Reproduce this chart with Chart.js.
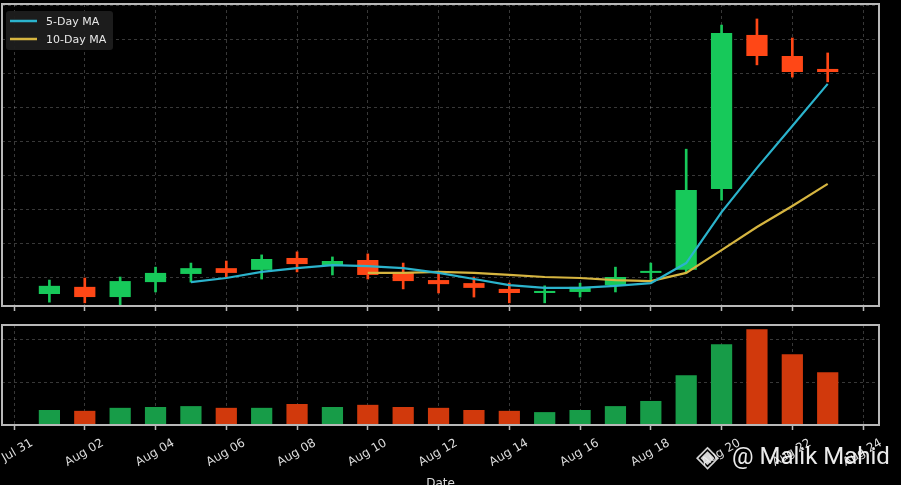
<!DOCTYPE html>
<html><head><meta charset="utf-8">
<script src="https://cdn.jsdelivr.net/npm/chart.js@4.4.1/dist/chart.umd.min.js"></script>
<style>
html,body{margin:0;padding:0;background:#000;width:901px;height:485px;overflow:hidden;}
#c1{position:absolute;left:0;top:0;}
#c2{position:absolute;left:0;top:318px;}
#logo{position:absolute;left:696px;top:441px;font-family:'DejaVu Sans';font-size:30px;line-height:30px;color:rgba(235,235,235,0.9);}
#wm{position:absolute;left:732px;top:441px;color:rgba(255,255,255,0.92);font-family:Roboto,'Noto Sans',sans-serif;font-size:24px;white-space:nowrap;line-height:30px;}
</style></head><body>
<canvas id="c1" width="901" height="318"></canvas>
<canvas id="c2" width="901" height="173"></canvas>
<div id="logo">◈</div>
<div id="wm">@ Malik Mahid</div>
<script>
const dates = ['Aug 01','Aug 02','Aug 03','Aug 04','Aug 05','Aug 06','Aug 07','Aug 08','Aug 09','Aug 10','Aug 11','Aug 12','Aug 13','Aug 14','Aug 15','Aug 16','Aug 17','Aug 18','Aug 19','Aug 20','Aug 21','Aug 22','Aug 23'];
const openP  = [0.50,0.71,0.41,0.85,1.09,1.26,1.21,1.56,1.35,1.50,1.12,0.91,0.82,0.65,0.53,0.56,0.76,1.12,1.21,3.59,8.12,7.50,7.12];
const highP  = [0.91,0.97,1.00,1.29,1.41,1.47,1.65,1.74,1.59,1.68,1.41,1.12,1.00,0.82,0.74,0.82,1.29,1.41,4.76,8.41,8.59,8.03,7.59];
const lowP   = [0.26,0.24,0.15,0.56,0.85,1.00,0.94,1.15,1.06,0.94,0.65,0.53,0.41,0.24,0.24,0.41,0.56,0.91,1.12,3.26,7.24,6.88,6.74];
const closeP = [0.74,0.41,0.88,1.12,1.26,1.12,1.53,1.38,1.47,1.06,0.88,0.79,0.68,0.53,0.59,0.71,1.00,1.18,3.56,8.18,7.50,7.03,7.03];
const ma5  = [null,null,null,null,0.85,0.97,1.15,1.26,1.35,1.32,1.26,1.12,0.94,0.76,0.68,0.68,0.74,0.82,1.41,2.91,4.21,5.44,6.68];
const ma10 = [null,null,null,null,null,null,null,null,null,1.12,1.12,1.15,1.12,1.06,1.00,0.97,0.91,0.88,1.12,1.79,2.47,3.09,3.74];
const volume = [0.35,0.33,0.40,0.42,0.44,0.40,0.40,0.49,0.42,0.47,0.42,0.40,0.35,0.33,0.30,0.35,0.44,0.56,1.16,1.88,2.23,1.65,1.23];
const tickDays = [0,2,4,6,8,10,12,14,16,18,20,22,24];
const tickLabels = ['Jul 31','Aug 02','Aug 04','Aug 06','Aug 08','Aug 10','Aug 12','Aug 14','Aug 16','Aug 18','Aug 20','Aug 22','Aug 24'];
const priceGrid = [1,2,3,4,5,6,7,8,9];
const volumeGrid = [0,1,2];

const UP = '#17c95a', DOWN = '#ff4716';
const VUP = '#179c48', VDOWN = '#d1390c';
const CYAN = '#2bb3cc', GOLD = '#d6b540';
const GRID = 'rgba(255,255,255,0.22)';
const FRAME = '#b8b8b8';

const xs = dates.map((_, i) => i + 1);
const isUp = dates.map((_, i) => closeP[i] >= openP[i]);

const framePlugin = {
  id: 'frame',
  afterDraw(chart) {
    const {ctx, chartArea: a} = chart;
    ctx.save();
    ctx.strokeStyle = FRAME;
    ctx.lineWidth = 2;
    ctx.strokeRect(a.left, a.top, a.right - a.left, a.bottom - a.top);
    ctx.restore();
  }
};

const legendPlugin = {
  id: 'maLegend',
  afterDraw(chart) {
    const ctx = chart.ctx;
    const items = chart.data.datasets.filter(d => d.type === 'line');
    ctx.save();
    ctx.fillStyle = 'rgba(30,30,30,0.95)';
    ctx.beginPath();
    ctx.roundRect(6, 11, 107, 39, 3);
    ctx.fill();
    items.forEach((d, k) => {
      const y = 21 + k * 18;
      ctx.strokeStyle = d.borderColor;
      ctx.lineWidth = 2.5;
      ctx.beginPath(); ctx.moveTo(10, y); ctx.lineTo(37, y); ctx.stroke();
      ctx.fillStyle = '#e8e8e8';
      ctx.font = '11px "DejaVu Sans"';
      ctx.textBaseline = 'middle';
      ctx.fillText(d.label, 46, y + 1);
    });
    ctx.restore();
  }
};

function xScale(showLabels) {
  return {
    type: 'linear', min: -0.34, max: 24.45, offset: false,
    afterBuildTicks: s => { s.ticks = tickDays.map(v => ({value: v})); },
    grid: { offset: false, color: GRID, lineWidth: 1, drawTicks: true, tickLength: 5,
            tickColor: FRAME, tickWidth: 1.5, tickBorderDash: [] },
    border: { display: false, dash: [3, 3] },
    ticks: showLabels ? {
      display: true, autoSkip: false, minRotation: 30, maxRotation: 30,
      labelOffset: 18, padding: 6, color: '#dcdcdc',
      font: { family: 'DejaVu Sans', size: 12 },
      callback: v => tickLabels[tickDays.indexOf(v)]
    } : { display: false },
    title: showLabels ? { display: true, text: 'Date', color: '#dcdcdc',
      font: { family: 'DejaVu Sans', size: 12 }, padding: { top: 0, bottom: 0 } } : { display: false },
    afterFit: s => { s.height = showLabels ? 66 : 12; s.paddingLeft = 0; s.paddingRight = 0; }
  };
}

function yScale(min, max, grid) {
  return {
    type: 'linear', min, max,
    afterBuildTicks: s => { s.ticks = grid.map(v => ({value: v})); },
    grid: { color: GRID, lineWidth: 1, drawTicks: false },
    border: { display: false, dash: [3, 3] },
    ticks: { display: false },
    afterFit: s => { s.width = 0; s.paddingTop = 0; s.paddingBottom = 0; }
  };
}

new Chart(document.getElementById('c1'), {
  type: 'bar',
  data: {
    datasets: [
      { type: 'line', label: '5-Day MA', data: xs.map((x, i) => ({x, y: ma5[i]})),
        borderColor: CYAN, borderWidth: 2.2, pointRadius: 0, tension: 0, order: 0 },
      { type: 'line', label: '10-Day MA', data: xs.map((x, i) => ({x, y: ma10[i]})),
        borderColor: GOLD, borderWidth: 2.2, pointRadius: 0, tension: 0, order: 0 },
      { type: 'bar', label: 'Body', data: xs.map((x, i) => ({x, y: [openP[i], closeP[i]]})),
        backgroundColor: isUp.map(u => u ? UP : DOWN), barPercentage: 0.6, categoryPercentage: 1,
        grouped: false, order: 1 },
      { type: 'bar', label: 'Wick', data: xs.map((x, i) => ({x, y: [lowP[i], highP[i]]})),
        backgroundColor: isUp.map(u => u ? UP : DOWN), barThickness: 2,
        grouped: false, order: 2 }
    ]
  },
  options: {
    responsive: false, animation: false, events: [],
    layout: { padding: { left: 2, right: 22, top: 4, bottom: 0 } },
    plugins: { legend: { display: false }, tooltip: { enabled: false } },
    scales: { x: xScale(false), y: yScale(0.147, 9.03, priceGrid) }
  },
  plugins: [framePlugin, legendPlugin]
});

new Chart(document.getElementById('c2'), {
  type: 'bar',
  data: {
    datasets: [
      { label: 'Volume', data: xs.map((x, i) => ({x, y: volume[i]})),
        backgroundColor: isUp.map(u => u ? VUP : VDOWN), barPercentage: 0.6, categoryPercentage: 1 }
    ]
  },
  options: {
    responsive: false, animation: false, events: [],
    layout: { padding: { left: 2, right: 22, top: 7, bottom: 0 } },
    plugins: { legend: { display: false }, tooltip: { enabled: false } },
    scales: { x: xScale(true), y: yScale(0, 2.33, volumeGrid) }
  },
  plugins: [framePlugin]
});
</script>
</body></html>
